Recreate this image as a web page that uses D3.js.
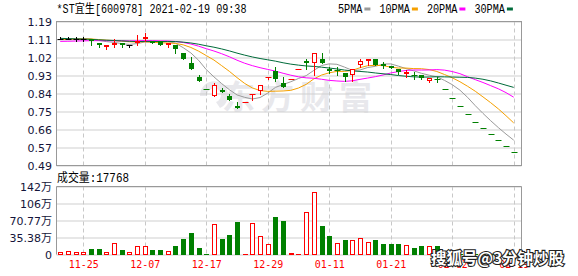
<!DOCTYPE html>
<meta charset="utf-8">
<style>
  body { margin: 0; background: #fff; }
  svg { display: block; }
  .paxis text, .vaxis text { font: 11px "DejaVu Sans", "Noto Sans CJK SC", sans-serif; fill: #14143a; }
  .xaxis text { font: 11px "DejaVu Sans Mono", monospace; fill: #f00; }
  .mono { font-family: "Liberation Mono", "Noto Sans CJK SC", monospace; font-size: 12px; fill: #000; }
</style>
<svg width="578" height="276"></svg>
<script src="https://d3js.org/d3.v7.min.js"></script>
<script>
var dates = ["11-20","11-23","11-24","11-25","11-26","11-27","11-30","12-01","12-02","12-03","12-04",
  "12-07","12-08","12-09","12-10","12-11","12-14","12-15","12-16","12-17","12-18","12-21","12-22",
  "12-23","12-24","12-25","12-28","12-29","12-30","12-31","01-04","01-05","01-06","01-07","01-08",
  "01-11","01-12","01-13","01-14","01-15","01-18","01-19","01-20","01-21","01-22","01-25","01-26",
  "01-27","01-28","01-29","02-01","02-02","02-03","02-04","02-05","02-08","02-09","02-10","02-18","02-19"];

var open  = [1.11,1.11,1.11,1.11,1.11,1.09,1.07,1.08,1.09,1.08,1.09,1.11,1.10,1.10,1.08,1.08,1.04,0.99,0.92,0.86,
  0.83,0.855,0.83,0.78,0.80,0.84,0.85,0.92,0.95,0.89,0.91,0.96,1.00,0.99,1.01,0.96,0.955,0.94,0.93,0.98,
  1.00,1.01,0.985,0.975,0.96,0.935,0.932,0.93,0.903,0.912,0.86,0.82,0.78,0.74,0.70,0.67,0.64,0.61,0.58,0.55];
var high  = [1.12,1.12,1.12,1.12,1.11,1.09,1.08,1.11,1.09,1.08,1.13,1.14,1.10,1.10,1.09,1.08,1.04,1.02,0.93,0.86,
  0.89,0.865,0.84,0.80,0.80,0.84,0.88,0.92,0.97,0.92,0.91,0.96,1.01,1.04,1.04,0.97,0.97,0.94,0.96,1.01,
  1.01,1.01,0.995,0.975,0.96,0.957,0.945,0.93,0.918,0.923,0.86,0.82,0.78,0.74,0.70,0.67,0.64,0.61,0.58,0.55];
var low   = [1.11,1.11,1.10,1.10,1.08,1.07,1.06,1.07,1.07,1.07,1.08,1.10,1.09,1.08,1.07,1.04,1.01,0.96,0.90,0.86,
  0.83,0.845,0.81,0.77,0.80,0.81,0.84,0.91,0.90,0.87,0.91,0.96,0.96,0.93,0.99,0.94,0.93,0.90,0.90,0.97,
  0.98,0.98,0.965,0.965,0.935,0.921,0.912,0.913,0.895,0.895,0.86,0.82,0.78,0.74,0.70,0.67,0.64,0.61,0.58,0.55];
var close = [1.11,1.11,1.11,1.11,1.10,1.08,1.08,1.09,1.08,1.08,1.10,1.12,1.09,1.08,1.09,1.06,1.01,0.96,0.90,0.86,
  0.88,0.845,0.81,0.77,0.80,0.84,0.88,0.92,0.91,0.87,0.91,0.96,0.99,1.04,0.99,0.95,0.95,0.92,0.96,1.00,
  1.01,0.98,0.975,0.965,0.945,0.948,0.925,0.915,0.918,0.905,0.86,0.82,0.78,0.74,0.70,0.67,0.64,0.61,0.58,0.55];
// volume in shares
var volume = [62000,83000,62000,62000,111000,111000,62000,229000,90000,62000,187000,187000,90000,90000,83000,
  173000,319000,444000,132000,10000,645000,330000,400000,670000,10000,660000,395000,210000,776000,700000,
  30000,10000,895000,1310000,590000,380000,230000,305000,310000,350000,250000,305000,215000,215000,215000,
  190000,130000,170000,170000,170000,12000,10000,9000,11000,13000,12000,10000,14000,15000,17768];
// closes before the first visible day, only used for the moving averages
var priorCloses = [1.15,1.15,1.14,1.14,1.15,1.14,1.13,1.14,1.14,1.14,
  1.10,1.09,1.09,1.08,1.08,1.09,1.09,1.08,1.09,1.09,
  1.10,1.10,1.10,1.10,1.11,1.11,1.11,1.11,1.11];

var priceTicks = ["1.19","1.11","1.02","0.93","0.84","0.75","0.66","0.57","0.49"];
var volTickValues = [1415400,1061500,707700,353800,0];
var volTicks = ["142万","106万","70.77万","35.38万","0"];
var dateTicks = ["11-25","12-07","12-17","12-29","01-11","01-21","02-02","02-19"];
var maNames = ["5PMA","10PMA","20PMA","30PMA"];
var maPeriods = [5,10,20,30];
var maColors = ["#9a9a9a","#f5a000","#ff00ff","#006b3a"];

var svg = d3.select("svg");
var L = 56.5, R = 521.5, pTop = 21.5, pBot = 165.5, vTop = 186.5, vBot = 254.5;
var RED = "#ff0000", GREEN = "#008000";

var x = d3.scalePoint().domain(dates).range([60.2, 513.7]);
var y = d3.scaleLinear().domain([0.485, 1.195]).range([pBot, pTop]);
var yv = d3.scaleLinear().domain([0, 1415400]).range([vBot, vTop]);
var cx = function(i) { return Math.round(x(dates[i])) + 0.5; };
var priceVals = priceTicks.map(function(t, k) { return 1.195 - k * 0.71 / 8; });

// watermark
var wm = svg.append("g").attr("fill", "#e8e8ec");
wm.append("path")
  .attr("d", "M200,96 a14,14 0 1,1 20,12 l-4,-6 a7,7 0 1,0 -9,-6 z");
wm.append("text").attr("x", 222).attr("y", 109)
  .attr("font-family", "Noto Sans CJK SC").attr("font-weight", "bold")
  .attr("font-size", 33).attr("letter-spacing", 6).text("东方财富");

// horizontal grids
svg.append("g").attr("transform", "translate(" + L + ",0)")
  .call(d3.axisRight(y).tickValues(priceVals).tickSize(R - L).tickFormat(""))
  .call(function(g) { g.select(".domain").remove(); g.selectAll("line").attr("stroke", "#cfcfcf"); });
svg.append("g").attr("transform", "translate(" + L + ",0)")
  .call(d3.axisRight(yv).tickValues(volTickValues).tickSize(R - L).tickFormat(""))
  .call(function(g) { g.select(".domain").remove(); g.selectAll("line").attr("stroke", "#cfcfcf"); });

// vertical dashed grids
[[pTop, pBot], [vTop, vBot]].forEach(function(r) {
  svg.append("g").selectAll("line").data(dateTicks).join("line")
    .attr("x1", function(d) { return Math.round(x(d)) + 0.5; })
    .attr("x2", function(d) { return Math.round(x(d)) + 0.5; })
    .attr("y1", r[0]).attr("y2", r[1])
    .attr("stroke", "#c8c8c8").attr("stroke-dasharray", "4,3");
});

// panel borders
svg.append("rect").attr("x", L).attr("y", pTop).attr("width", R - L).attr("height", pBot - pTop)
  .attr("fill", "none").attr("stroke", "#999");
svg.append("path").attr("d", "M" + L + "," + vBot + "V" + vTop + "H" + R + "V" + vBot)
  .attr("fill", "none").attr("stroke", "#999");

// moving averages
var allClose = priorCloses.concat(close);
var off = priorCloses.length;
maPeriods.forEach(function(n, k) {
  var vals = close.map(function(c, i) { return d3.mean(allClose.slice(i + off + 1 - n, i + off + 1)); });
  svg.append("path").datum(vals)
    .attr("fill", "none").attr("stroke", maColors[k]).attr("stroke-width", 1)
    .attr("d", d3.line().x(function(d, i) { return x(dates[i]); }).y(function(d) { return y(d); }));
});

// candles
function candleColor(i) {
  if (close[i] > open[i]) return RED;
  if (close[i] < open[i]) return GREEN;
  var prev = i > 0 ? close[i - 1] : priorCloses[priorCloses.length - 1];
  return close[i] > prev ? RED : close[i] < prev ? GREEN : "#000";
}
var cg = svg.append("g");
dates.forEach(function(d, i) {
  var col = candleColor(i), c = cx(i);
  var top = Math.round(y(Math.max(open[i], close[i]))), bot = Math.round(y(Math.min(open[i], close[i])));
  if (high[i] > low[i])
    cg.append("line").attr("x1", c).attr("x2", c)
      .attr("y1", Math.round(y(high[i]))).attr("y2", Math.round(y(low[i])) + 1).attr("stroke", col);
  if (bot - top < 2) {
    cg.append("line").attr("x1", c - 3).attr("x2", c + 3)
      .attr("y1", top + 0.5).attr("y2", top + 0.5).attr("stroke", col);
  } else if (col === RED) {
    cg.append("rect").attr("x", c - 2).attr("y", top + 0.5).attr("width", 4).attr("height", bot - top - 1)
      .attr("fill", "#fff").attr("stroke", RED);
  } else {
    cg.append("rect").attr("x", c - 2.5).attr("y", top).attr("width", 5).attr("height", bot - top)
      .attr("fill", col);
  }
});

// volume bars
var vg = svg.append("g");
volume.forEach(function(v, i) {
  var prev = i > 0 ? close[i - 1] : priorCloses[priorCloses.length - 1];
  var up = close[i] >= prev, c = cx(i);
  var t = Math.round(yv(v));
  var h = Math.max(1, Math.round(vBot + 0.5) - t);
  if (up && h > 2) {
    vg.append("rect").attr("x", c - 2).attr("y", t + 0.5).attr("width", 4).attr("height", h - 1)
      .attr("fill", "#fff").attr("stroke", RED);
  } else {
    vg.append("rect").attr("x", c - 2.5).attr("y", Math.round(vBot + 0.5) - h).attr("width", 5).attr("height", h)
      .attr("fill", up ? RED : GREEN);
  }
});

// axes labels
svg.append("g").attr("class", "paxis").attr("transform", "translate(" + (L - 0.5) + ",0)")
  .call(d3.axisLeft(y).tickValues(priceVals).tickSize(0).tickPadding(4)
    .tickFormat(function(d, i) { return priceTicks[i]; }))
  .call(function(g) { g.select(".domain").remove(); });
svg.append("g").attr("class", "vaxis").attr("transform", "translate(" + (L - 0.5) + ",0)")
  .call(d3.axisLeft(yv).tickValues(volTickValues).tickSize(0).tickPadding(4)
    .tickFormat(function(d, i) { return volTicks[i]; }))
  .call(function(g) { g.select(".domain").remove(); });
svg.append("g").attr("class", "xaxis").attr("transform", "translate(0," + vBot + ")")
  .call(d3.axisBottom(x).tickValues(dateTicks).tickSize(0).tickPadding(6))
  .call(function(g) { g.select(".domain").remove(); g.selectAll("text").attr("textLength", 30).attr("lengthAdjust", "spacingAndGlyphs"); });

// title, volume label, legend
svg.append("text").attr("class", "mono").attr("x", 56.5).attr("y", 13)
  .attr("textLength", 190).attr("lengthAdjust", "spacingAndGlyphs")
  .text("*ST宜生[600978] 2021-02-19 09:38");
svg.append("text").attr("class", "mono").attr("x", 57).attr("y", 181.5)
  .attr("textLength", 72).attr("lengthAdjust", "spacingAndGlyphs")
  .text("成交量:" + volume[volume.length - 1]);

var lx = 338;
maNames.forEach(function(name, k) {
  var w = name.length * 6.1;
  svg.append("text").attr("class", "mono").attr("x", lx).attr("y", 13)
    .attr("textLength", w).attr("lengthAdjust", "spacingAndGlyphs").text(name);
  svg.append("rect").attr("x", lx + w + 2).attr("y", 7.5).attr("width", 6).attr("height", 3)
    .attr("fill", maColors[k]);
  lx += w + 17;
});

// bottom-right stamp
svg.append("text").attr("x", 431).attr("y", 264)
  .attr("font-family", "Noto Sans CJK SC").attr("font-weight", "bold").attr("font-size", 16)
  .attr("fill", "#fff").attr("stroke", "#222").attr("stroke-width", 2.2).attr("paint-order", "stroke")
  .attr("textLength", 133).attr("lengthAdjust", "spacingAndGlyphs")
  .text("搜狐号@3分钟炒股");
</script>
